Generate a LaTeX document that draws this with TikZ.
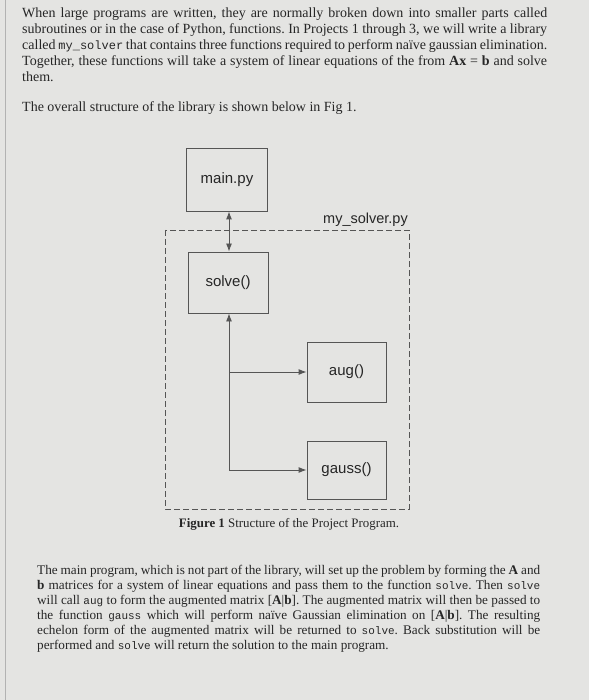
\documentclass[tikz,border=0pt]{standalone}
\usepackage{fontspec}
\setmainfont{Liberation Serif}
\setmonofont{Liberation Mono}
\newfontfamily\diagfont{Liberation Sans}
\usetikzlibrary{arrows.meta}
\definecolor{bg}{HTML}{E4E4E2}
\definecolor{ink}{HTML}{262626}
\definecolor{edge}{HTML}{555555}
\newcommand{\topmono}[1]{{\fontsize{12}{16}\ttfamily #1}}
\newcommand{\botmono}[1]{{\fontsize{11}{15}\ttfamily #1}}
\frenchspacing
\begin{document}
\begin{tikzpicture}[x=1pt,y=-1pt,
  toptxt/.style={anchor=base west, inner sep=0, text=ink, font=\fontsize{14}{16}\selectfont},
  bottxt/.style={anchor=base west, inner sep=0, text=ink, font=\fontsize{13.2}{15}\selectfont},
  box/.style={draw=edge, line width=0.9pt, inner sep=0, text=ink, font=\diagfont\fontsize{15}{18}\selectfont},
  tip/.tip={Latex[length=8pt,width=6pt]},
  arr/.style={draw=edge, line width=0.9pt, -tip},
  dblarr/.style={draw=edge, line width=0.9pt, tip-tip},
  lib/.style={draw=edge, line width=0.9pt, dash pattern=on 6pt off 3pt}]
\fill[bg] (0,0) rectangle (589,700);
\useasboundingbox (0,0) rectangle (589,700);
\draw[black!30, line width=0.6pt] (5,0) -- (5,700);

% top paragraph
\node[toptxt] (t1) at (22,18) {\makebox[525pt][s]{When large programs are written, they are normally broken down into smaller parts called}};
\node[toptxt] (t2) at (22,34) {\makebox[525pt][s]{subroutines or in the case of Python, functions. In Projects 1 through 3, we will write a library}};
\node[toptxt] (t3) at (22,50) {\makebox[525pt][s]{called \topmono{my\_solver} that contains three functions required to perform naïve gaussian elimination.}};
\node[toptxt] (t4) at (22,66) {\makebox[525pt][s]{Together, these functions will take a system of linear equations of the from \textbf{Ax} = \textbf{b} and solve}};
\node[toptxt] (t5) at (22,82) {them.};
\node[toptxt] (t6) at (22,112) {The overall structure of the library is shown below in Fig 1.};

% diagram
\draw[lib] (165,230) -- (165,509) -- (409,509) -- (409,230) -- cycle;
\node[anchor=base east, inner sep=0, text=ink, font=\diagfont\fontsize{14.5}{17}\selectfont] (lbl) at (408,224) {my\_solver.py};
\node[box, minimum width=81pt, minimum height=63pt] (main) at (227,179.5) {main.py};
\node[box, minimum width=80pt, minimum height=61pt] (solve) at (228,282.5) {solve()};
\node[box, minimum width=79pt, minimum height=60pt] (aug) at (346.5,372) {aug()};
\node[box, minimum width=79pt, minimum height=58pt] (gauss) at (346.5,470) {gauss()};
\coordinate (j1) at (229,372);
\coordinate (j2) at (229,470);
\draw[dblarr] (main.south -| j1) -- (solve.north -| j1);
\draw[arr] (j2) -- (j2 |- solve.south);
\draw[arr] (j1) -- (aug.west);
\draw[arr] (j2) -- (gauss.west);
\node[anchor=base, inner sep=0, text=ink, font=\fontsize{12.9}{15}\selectfont] (cap) at (289,527) {\textbf{Figure 1} Structure of the Project Program.};

% bottom paragraph
\node[bottxt] (b1) at (37,574) {\makebox[503pt][s]{The main program, which is not part of the library, will set up the problem by forming the \textbf{A} and}};
\node[bottxt] (b2) at (37,589) {\makebox[503pt][s]{\textbf{b} matrices for a system of linear equations and pass them to the function \botmono{solve}. Then \botmono{solve}}};
\node[bottxt] (b3) at (37,604) {\makebox[503pt][s]{will call \botmono{aug} to form the augmented matrix [\textbf{A}|\textbf{b}]. The augmented matrix will then be passed to}};
\node[bottxt] (b4) at (37,619) {\makebox[503pt][s]{the function \botmono{gauss} which will perform naïve Gaussian elimination on [\textbf{A}|\textbf{b}]. The resulting}};
\node[bottxt] (b5) at (37,634) {\makebox[503pt][s]{echelon form of the augmented matrix will be returned to \botmono{solve}. Back substitution will be}};
\node[bottxt] (b6) at (37,649) {performed and \botmono{solve} will return the solution to the main program.};
\end{tikzpicture}
\end{document}
